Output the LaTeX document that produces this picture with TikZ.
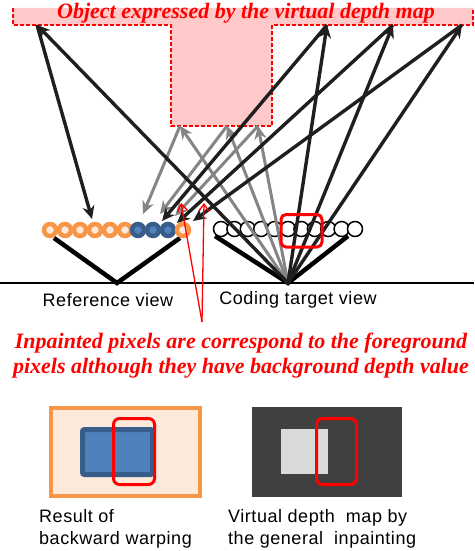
\documentclass[tikz,border=0pt]{standalone}
\usepackage{fontspec}
\setmainfont{Liberation Serif}
\setsansfont{Liberation Sans}
\newfontfamily\capfont{Liberation Sans}[LetterSpace=3]
\usetikzlibrary{arrows.meta}
\definecolor{objpink}{HTML}{FFC9C9}
\definecolor{pporange}{HTML}{F79646}
\definecolor{pppeach}{HTML}{FDE9D9}
\definecolor{ppblue}{HTML}{4F81BD}
\definecolor{ppdarkblue}{HTML}{385D8A}
\definecolor{raygray}{HTML}{858585}
\definecolor{raydark}{HTML}{1F1F1F}
\definecolor{mapdark}{HTML}{404040}
\definecolor{maplight}{HTML}{D9D9D9}
\tikzstyle{arrow} = [->,>={Stealth[length=13pt,width=12pt]}]
\tikzstyle{ray} = [arrow, line width=3.4pt, raydark]
\tikzstyle{backray} = [arrow, line width=3pt, raygray]
\tikzstyle{hint} = [-{Straight Barb[length=7pt,width=10pt]}, line width=1.3pt, red]
\tikzstyle{bgpix} = [circle, draw=pporange, fill=pppeach, line width=4.5pt, minimum size=12pt, inner sep=0pt]
\tikzstyle{fgpix} = [circle, draw=ppdarkblue, fill=ppblue, line width=4.5pt, minimum size=12pt, inner sep=0pt]
\tikzstyle{tgpix} = [circle, draw=black, fill=white, line width=1.5pt, minimum size=15pt, inner sep=0pt]
\tikzstyle{camera} = [line width=4.5pt]
\tikzstyle{focusbox} = [draw=red, line width=3pt, rounded corners=6pt]
\tikzstyle{viewtext} = [font=\capfont\fontsize{18}{21}\selectfont, inner sep=0pt]
\tikzstyle{boxcap} = [font=\capfont\fontsize{18}{22}\selectfont, align=left, anchor=north west, inner sep=0pt]
\tikzstyle{note} = [font=\bfseries\itshape\fontsize{22}{25}\selectfont, text=red, inner sep=0pt]

\begin{document}
\begin{tikzpicture}[x=1pt,y=-1pt]
        \useasboundingbox (0,0) rectangle (474,551);
        % object given by the virtual depth map
        \fill[objpink] (13,8) -- (473,8) -- (473,25) -- (272,25) -- (272,126) -- (171,126) -- (171,25) -- (13,25) -- cycle;
        \draw[red, line width=1.3pt, dash pattern=on 4pt off 2pt] (13,8) -- (13,25) -- (171,25) -- (171,126) -- (272,126) -- (272,25) -- (473,25) -- (473,8);
        \node[note] (obj) at (246,13) {Object expressed by the virtual depth map};

        \coordinate (p1) at (37,25);
        \coordinate (p2) at (327,25);
        \coordinate (p3) at (393,25);
        \coordinate (p4) at (462,25);
        \coordinate (q1) at (180,126);
        \coordinate (q2) at (227,126);
        \coordinate (q3) at (258,126);

        % ground and cameras
        \coordinate (gl) at (0,283);
        \coordinate (gr) at (474,283);
        \draw[line width=1.3pt] (gl) -- (gr);
        \coordinate (rcam) at (117,283);
        \coordinate (tcam) at (288,283);
        \coordinate (rl) at (54,238);
        \coordinate (rr) at (180,238);
        \coordinate (tl) at (215,236);
        \coordinate (tr) at (348,236);
        \draw[camera] (rl) -- (rcam) -- (rr);
        \draw[camera] (tl) -- (tcam) -- (tr);

        % pixels of the coding target view
        \foreach \i in {1,...,11}
            \node[tgpix] (t\i) at ({207.6+13.4*\i},229) {};

        % pixels of the reference view
        \foreach \i in {1,...,6}
            \node[bgpix] (r\i) at ({35+15*\i},230) {};
        \foreach \i in {7,8,9}
            \node[fgpix] (r\i) at ({33+15*\i},230) {};
        \node[bgpix] (r10) at (183,230) {};

        \coordinate (e1) at (92,219);
        \coordinate (e2) at (143,214);
        \coordinate (e3) at (160,214);
        \coordinate (e4) at (175,216);
        \coordinate (e5) at (162,221);
        \coordinate (e6) at (177,223);
        \coordinate (e7) at (193,221);

        % rays: target view -> object -> reference view
        \draw[backray] (tcam) -- (q1);
        \draw[backray] (tcam) -- (q2);
        \draw[backray] (tcam) -- (q3);
        \draw[backray] (q1) -- (e2);
        \draw[backray] (q2) -- (e3);
        \draw[backray] (q3) -- (e4);
        \draw[ray] (tcam) -- (p1);
        \draw[ray] (tcam) -- (p2);
        \draw[ray] (tcam) -- (p3);
        \draw[ray] (tcam) -- (p4);
        \draw[ray] (p1) -- (e1);
        \draw[ray] (p2) -- (e5);
        \draw[ray] (p3) -- (e6);
        \draw[ray] (p4) -- (e7);

        \draw[focusbox, rounded corners=5pt] (281,214.5) rectangle (322,247);

        \node[viewtext] (refname) at (108,300) {Reference view};
        \node[viewtext] (tgtname) at (298,300) {Coding target view};

        % inpainted pixels
        \coordinate (hint) at (202,322);
        \coordinate (h1) at (181,203);
        \coordinate (h2) at (204,203);
        \draw[hint] (hint) -- (h1);
        \draw[hint] (hint) -- (h2);
        \node[note, align=center] (inp) at (241,356) {Inpainted pixels are correspond to the foreground\\pixels although they have background depth value};

        % result of backward warping
        \draw[draw=pporange, fill=pppeach, line width=4pt] (51,408) rectangle (200,496);
        \draw[draw=ppdarkblue, fill=ppblue, line width=5pt, rounded corners=2pt] (82.5,429.5) rectangle (152.5,474.5);
        \draw[focusbox] (113.5,418.5) rectangle (154.5,484.5);
        \node[boxcap] (warpcap) at (39,509) {Result of\\backward warping};

        % virtual depth map
        \fill[mapdark] (252,407) rectangle (402,497);
        \fill[maplight] (281,429) rectangle (328,474);
        \draw[focusbox] (316.5,418.5) rectangle (356.5,484.5);
        \node[boxcap] (mapcap) at (228,509) {Virtual depth\ \ map by\\the general\ \ inpainting};

      \end{tikzpicture}
\end{document}
